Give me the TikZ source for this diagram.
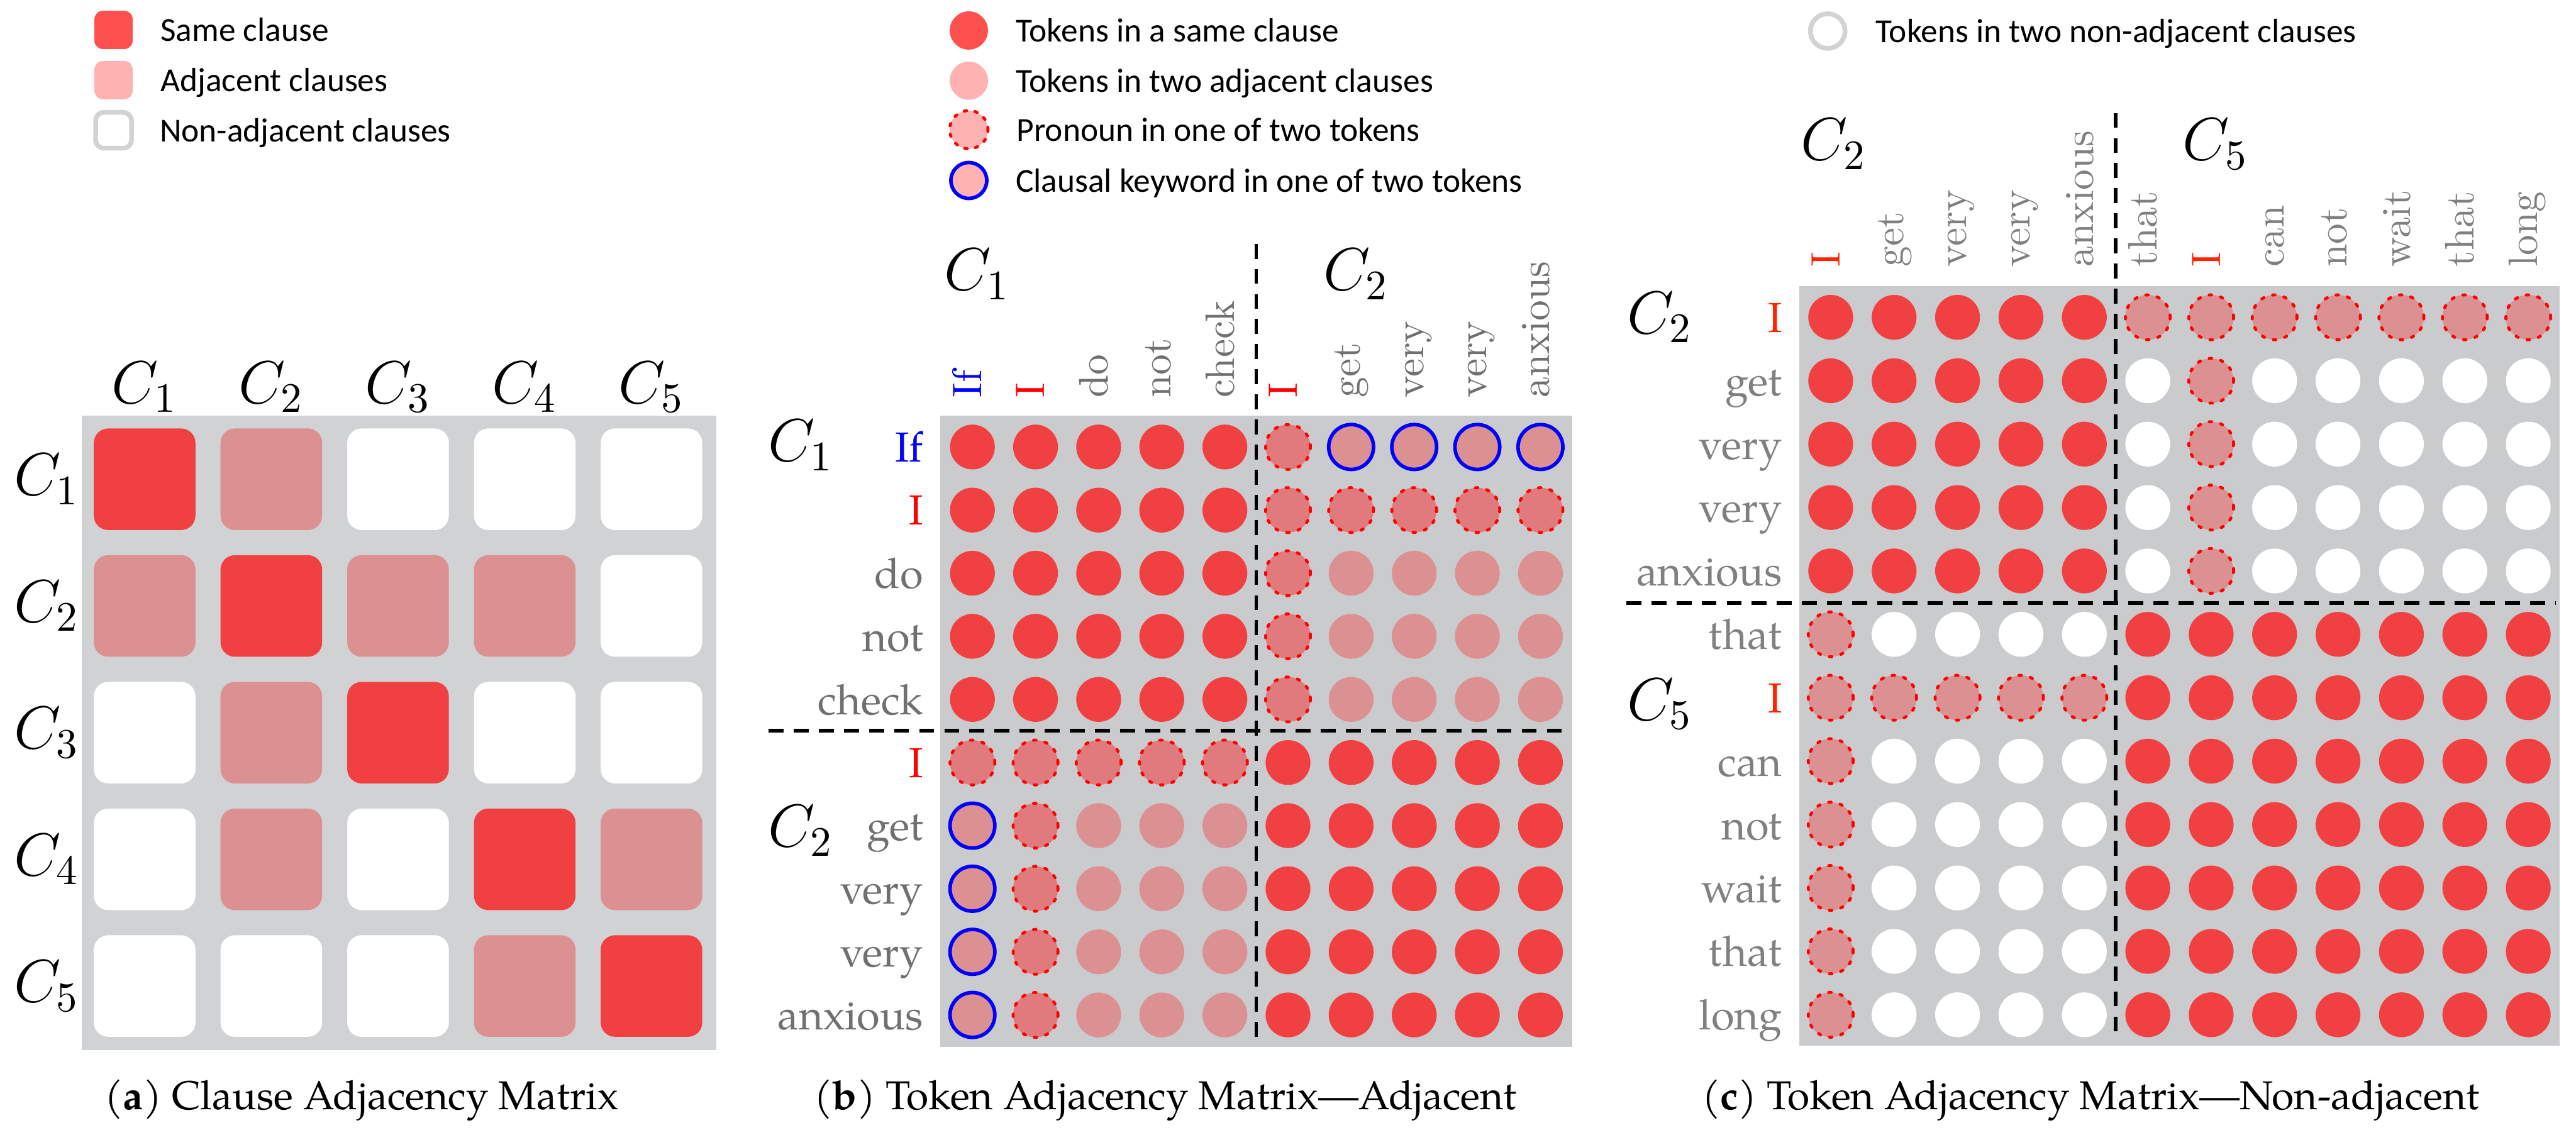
\documentclass[tikz,border=0pt]{standalone}
\usepackage[no-math]{fontspec}
\usepackage{amsmath}
\usepackage{xcolor}
\usepackage{tikz}
\usetikzlibrary{positioning}

\newfontfamily\palfont{TeX Gyre Pagella}
\newfontfamily\legfont{Carlito}

\definecolor{samered}{RGB}{240,64,66}
\definecolor{adjpink}{RGB}{219,144,146}
\definecolor{pronpink}{RGB}{224,122,124}
\definecolor{legred}{RGB}{255,80,80}
\definecolor{legpink}{RGB}{255,178,178}
\definecolor{ringgray}{RGB}{210,211,213}
\definecolor{bga}{RGB}{209,210,212}
\definecolor{bgb}{RGB}{202,203,205}
\definecolor{lblgray}{RGB}{112,112,112}
\definecolor{lblgrayc}{RGB}{128,128,128}
\definecolor{keyblue}{RGB}{0,0,255}
\definecolor{pronred}{RGB}{255,0,0}
\definecolor{pronredc}{RGB}{255,36,0}

\begin{document}
\begin{tikzpicture}[x=5mm,y=-5mm,
  cell/.style={rounded corners=1.2mm,minimum size=8.5mm,inner sep=0pt},
  tok/.style={circle,minimum size=3.75mm,inner sep=0pt},
  tsame/.style={fill=samered},
  tadj/.style={fill=adjpink},
  tnon/.style={fill=white},
  tpron/.style={fill=pronpink,draw=pronred,line width=0.25mm,dash pattern=on 0.2mm off 0.77mm,line cap=round},
  tpronc/.style={tpron,fill=adjpink},
  tkey/.style={fill=adjpink,draw=keyblue,line width=0.3mm},
  clbl/.style={font=\fontsize{14.4}{17}\selectfont,inner sep=0pt},
  rowlbl/.style={font=\palfont\fontsize{10}{12}\selectfont,anchor=base east,inner sep=0pt},
  collbl/.style={font=\fontsize{9.8}{12}\selectfont,rotate=90,anchor=mid west,inner sep=0pt},
  legtxt/.style={font=\legfont\fontsize{8}{10}\selectfont,inner sep=0pt,text height=1.5ex,text depth=.25ex},
  legsq/.style={rounded corners=0.7mm,minimum size=3.2mm,inner sep=0pt},
  legdot/.style={circle,minimum size=3.2mm,inner sep=0pt},
  captxt/.style={font=\palfont\fontsize{9.6}{12}\selectfont,anchor=base,inner sep=0pt},
  divline/.style={draw=black,line width=0.3mm,dash pattern=on 1.25mm off 0.85mm}]
  \useasboundingbox (0,0) rectangle (43.10,18.99);

  % legend (a)
  \node[legsq,fill=legred] (la-1) at (1.90,0.50) {};
  \node[legsq,fill=legpink] (la-2) at (1.90,1.34) {};
  \node[legsq,fill=white,draw=ringgray,line width=0.4mm,minimum size=3mm] (la-3) at (1.90,2.18) {};
  \node[legtxt,right=2.2mm of la-1] (la-1t) {Same clause};
  \node[legtxt,right=2.2mm of la-2] (la-2t) {Adjacent clauses};
  \node[legtxt,right=2.1mm of la-3] (la-3t) {Non-adjacent clauses};

  % legend (b)
  \node[legdot,fill=legred] (lb-1) at (16.21,0.51) {};
  \node[legdot,fill=legpink] (lb-2) at (16.21,1.35) {};
  \node[legdot,fill=legpink,draw=pronred,line width=0.25mm,dash pattern=on 0.2mm off 0.7mm,line cap=round] (lb-3) at (16.21,2.17) {};
  \node[legdot,fill=legpink,draw=keyblue,line width=0.3mm,minimum size=3mm] (lb-4) at (16.21,3.02) {};
  \node[legtxt,right=2.2mm of lb-1] (lb-1t) {Tokens in a same clause};
  \node[legtxt,right=2.2mm of lb-2] (lb-2t) {Tokens in two adjacent clauses};
  \node[legtxt,right=2.2mm of lb-3] (lb-3t) {Pronoun in one of two tokens};
  \node[legtxt,right=2.2mm of lb-4] (lb-4t) {Clausal keyword in one of two tokens};

  % legend (c)
  \node[legdot,fill=white,draw=ringgray,line width=0.4mm,minimum size=2.9mm] (lc-1) at (30.58,0.52) {};
  \node[legtxt,right=2.3mm of lc-1] (lc-1t) {Tokens in two non-adjacent clauses};

  % (a) clause adjacency matrix
  \fill[bga] (1.37,6.95) rectangle (11.98,17.57);
  \foreach \k [count=\j] in {tsame,tadj,tnon,tnon,tnon}
    \node[cell,\k] (a-1-\j) at ({2.42+(\j-1)*2.12},8.02) {};
  \foreach \k [count=\j] in {tadj,tsame,tadj,tadj,tnon}
    \node[cell,\k] (a-2-\j) at ({2.42+(\j-1)*2.12},10.14) {};
  \foreach \k [count=\j] in {tnon,tadj,tsame,tnon,tnon}
    \node[cell,\k] (a-3-\j) at ({2.42+(\j-1)*2.12},12.26) {};
  \foreach \k [count=\j] in {tnon,tadj,tnon,tsame,tadj}
    \node[cell,\k] (a-4-\j) at ({2.42+(\j-1)*2.12},14.38) {};
  \foreach \k [count=\j] in {tnon,tnon,tnon,tadj,tsame}
    \node[cell,\k] (a-5-\j) at ({2.42+(\j-1)*2.12},16.50) {};
  \foreach \i in {1,...,5}{
    \node[clbl] (at-\i) at ({2.42+(\i-1)*2.12},6.48) {$C_{\i}$};
    \node[clbl] (al-\i) at (0.78,{8.02+(\i-1)*2.12}) {$C_{\i}$};
  }

  % (b) tokens of C1 and C2
  \fill[bgb] (15.73,6.95) rectangle (26.31,17.52);
  \def\tokb{1/1/2,2/1/1,3/1/0,4/1/0,5/1/0,6/2/1,7/2/0,8/2/0,9/2/0,10/2/0}
  \foreach \i/\ci/\ti in \tokb {
    \foreach \j/\cj/\tj in \tokb {
      \def\cellkind{tadj}
      \ifnum\ti=2 \def\cellkind{tkey}\fi
      \ifnum\tj=2 \def\cellkind{tkey}\fi
      \ifnum\ti=1 \def\cellkind{tpron}\fi
      \ifnum\tj=1 \def\cellkind{tpron}\fi
      \ifnum\ci=\cj \def\cellkind{tsame}\fi
      \node[tok,\cellkind] (b-\i-\j) at ({16.27+(\j-1)*1.056},{7.48+(\i-1)*1.056}) {};
    }
  }
  \foreach \i/\w/\col in {1/If/keyblue,2/I/pronred,3/do/lblgray,4/not/lblgray,5/check/lblgray,
      6/I/pronred,7/get/lblgray,8/very/lblgray,9/very/lblgray,10/anxious/lblgray}{
    \node[rowlbl,text=\col] (bl-\i) at (15.46,{7.48+(\i-1)*1.056+0.25}) {\w};
    \node[collbl,text=\col] (bt-\i) at ({16.27+(\i-1)*1.056},6.67) {\w};
  }
  \node[clbl] (bt-c1) at (16.35,4.59) {$C_1$};
  \node[clbl] (bt-c2) at (22.69,4.59) {$C_2$};
  \node[clbl] (bl-c1) at (13.40,7.45) {$C_1$};
  \node[clbl] (bl-c2) at (13.40,13.90) {$C_2$};
  \coordinate (bv-top) at (21.02,4.08);
  \coordinate (bv-bot) at (21.02,17.45);
  \coordinate (bh-l) at (12.86,12.23);
  \coordinate (bh-r) at (26.26,12.23);
  \draw[divline] (bv-top) -- (bv-bot);
  \draw[divline] (bh-l) -- (bh-r);

  % (c) tokens of C2 and C5
  \fill[bgb] (30.10,4.79) rectangle (42.83,17.50);
  \def\tokc{1/2/1,2/2/0,3/2/0,4/2/0,5/2/0,6/5/0,7/5/1,8/5/0,9/5/0,10/5/0,11/5/0,12/5/0}
  \foreach \i/\ci/\ti in \tokc {
    \foreach \j/\cj/\tj in \tokc {
      \def\cellkind{tnon}
      \ifnum\ti=1 \def\cellkind{tpronc}\fi
      \ifnum\tj=1 \def\cellkind{tpronc}\fi
      \ifnum\ci=\cj \def\cellkind{tsame}\fi
      \node[tok,\cellkind] (c-\i-\j) at ({30.63+(\j-1)*1.061},{5.31+(\i-1)*1.061}) {};
    }
  }
  \foreach \i/\w/\col in {1/I/pronredc,2/get/lblgrayc,3/very/lblgrayc,4/very/lblgrayc,5/anxious/lblgrayc,
      6/that/lblgrayc,7/I/pronredc,8/can/lblgrayc,9/not/lblgrayc,10/wait/lblgrayc,11/that/lblgrayc,12/long/lblgrayc}{
    \node[rowlbl,text=\col] (cl-\i) at (29.83,{5.31+(\i-1)*1.061+0.25}) {\w};
    \node[collbl,text=\col] (ct-\i) at ({30.63+(\i-1)*1.061},4.48) {\w};
  }
  \node[clbl] (ct-c2) at (30.68,2.41) {$C_2$};
  \node[clbl] (ct-c5) at (37.07,2.41) {$C_5$};
  \node[clbl] (cl-c2) at (27.77,5.31) {$C_2$};
  \node[clbl] (cl-c5) at (27.77,11.78) {$C_5$};
  \coordinate (cv-top) at (35.40,1.89);
  \coordinate (cv-bot) at (35.40,17.39);
  \coordinate (ch-l) at (27.21,10.09);
  \coordinate (ch-r) at (42.76,10.09);
  \draw[divline] (cv-top) -- (cv-bot);
  \draw[divline] (ch-l) -- (ch-r);

  % captions
  \node[captxt] (cap-a) at (6.05,18.57) {(\textbf{a}) Clause Adjacency Matrix};
  \node[captxt] (cap-b) at (19.50,18.57) {(\textbf{b}) Token Adjacency Matrix\textemdash Adjacent};
  \node[captxt] (cap-c) at (34.98,18.57) {(\textbf{c}) Token Adjacency Matrix\textemdash Non-adjacent};
\end{tikzpicture}
\end{document}
